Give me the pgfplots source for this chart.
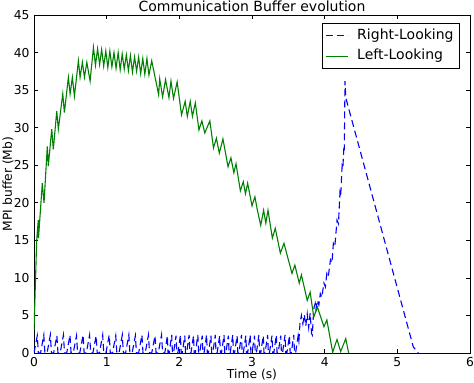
\documentclass[border=0pt]{standalone}
\usepackage{fontspec}
\setmainfont{DejaVu Sans}
\usepackage{pgfplots}
\pgfplotsset{compat=1.18}
\definecolor{mblue}{rgb}{0,0,1}
\definecolor{mgreen}{rgb}{0,0.5,0}
\begin{document}
\begin{tikzpicture}
\begin{axis}[
  name=ax,
  scale only axis,
  width=436pt, height=338pt,
  xmin=0, xmax=6, ymin=0, ymax=45,
  xtick={0,1,2,3,4,5,6},
  ytick={0,5,10,15,20,25,30,35,40,45},
  tick align=inside,
  major tick length=4pt,
  tick style={black, line width=0.7pt},
  axis line style={line width=0.9pt},
  /pgf/number format/assume math mode=true,
  ticklabel style={font=\fontsize{12.3}{14}\selectfont},
  xticklabel style={yshift=-1pt},
  yticklabel style={xshift=-1pt},
  every axis title shift=0pt,
  title={Communication Buffer evolution},
  title style={at={(axis description cs:0.5,1)}, anchor=base, yshift=3.2pt, inner sep=0pt, font=\fontsize{14}{16}\selectfont},
  xlabel={Time (s)},
  xlabel style={at={(axis description cs:0.5,-0.0754)}, anchor=base, inner sep=0pt, font=\fontsize{12.3}{14}\selectfont},
  ylabel={MPI buffer (Mb)},
  ylabel style={at={(axis description cs:-0.0505,0.5)}, anchor=base, inner sep=0pt, font=\fontsize{12.3}{14}\selectfont},
  legend cell align=left,
  legend image code/.code={\draw[#1] (0pt,0pt) -- (22pt,0pt);},
  legend style={at={(axis description cs:1,1)}, anchor=north east, xshift=-10pt, yshift=-8pt,
    draw=black, line width=0.8pt, inner xsep=3pt, inner ysep=1.8pt,
    font=\fontsize{14}{16}\selectfont,
    nodes={inner xsep=3pt, inner ysep=3.85pt, text height=10pt, text depth=3pt},
    column sep=6pt},
]
\addplot[mblue, line width=1.1pt, dash pattern=on 7pt off 4pt] coordinates {
(0.000,0) (0.045,2.3) (0.060,0)
(0.090,0) (0.135,2.4) (0.150,0)
(0.180,0) (0.225,2.4) (0.240,0)
(0.270,0) (0.315,2.3) (0.330,0)
(0.360,0) (0.405,2.4) (0.420,0)
(0.450,0) (0.495,2.4) (0.510,0)
(0.540,0) (0.585,2.3) (0.600,0)
(0.630,0) (0.675,2.4) (0.690,0)
(0.720,0) (0.765,2.4) (0.780,0)
(0.810,0) (0.855,2.3) (0.870,0)
(0.900,0) (0.945,2.4) (0.960,0)
(0.990,0) (1.035,2.4) (1.050,0)
(1.080,0) (1.125,2.3) (1.140,0)
(1.170,0) (1.215,2.4) (1.230,0)
(1.260,0) (1.305,2.4) (1.320,0)
(1.350,0) (1.395,2.3) (1.410,0)
(1.440,0) (1.485,2.4) (1.500,0)
(1.530,0) (1.575,2.4) (1.590,0)
(1.620,0) (1.665,2.3) (1.680,0)
(1.710,0) (1.755,2.4) (1.770,0)
(1.800,0) (1.835,2.3) (1.845,0)
(1.860,0) (1.895,2.4) (1.905,0)
(1.920,0) (1.955,2.3) (1.965,0)
(1.980,0) (2.015,2.4) (2.025,0)
(2.040,0) (2.075,2.3) (2.085,0)
(2.100,0) (2.135,2.4) (2.145,0)
(2.160,0) (2.195,2.3) (2.205,0)
(2.220,0) (2.255,2.4) (2.265,0)
(2.280,0) (2.315,2.3) (2.325,0)
(2.340,0) (2.375,2.4) (2.385,0)
(2.400,0) (2.435,2.3) (2.445,0)
(2.460,0) (2.495,2.4) (2.505,0)
(2.520,0) (2.555,2.3) (2.565,0)
(2.580,0) (2.615,2.4) (2.625,0)
(2.640,0) (2.675,2.3) (2.685,0)
(2.700,0) (2.735,2.4) (2.745,0)
(2.760,0) (2.795,2.3) (2.805,0)
(2.820,0) (2.855,2.4) (2.865,0)
(2.880,0) (2.915,2.3) (2.925,0)
(2.940,0) (2.975,2.4) (2.985,0)
(3.000,0) (3.035,2.3) (3.045,0)
(3.060,0) (3.095,2.4) (3.105,0)
(3.120,0) (3.155,2.3) (3.165,0)
(3.180,0) (3.215,2.4) (3.225,0)
(3.240,0) (3.275,2.3) (3.285,0)
(3.300,0) (3.335,2.4) (3.345,0)
(3.360,0) (3.395,2.3) (3.405,0)
(3.420,0) (3.455,2.4) (3.465,0)
(3.480,0) (3.515,2.3) (3.525,0)
(3.540,0) (3.575,2.4) (3.585,0)
(3.600,0) (3.635,2.3) (3.645,1.6)
(3.660,3.9) (3.680,5.0) (3.700,3.9) (3.720,5.1) (3.740,3.6) (3.760,5.2)
(3.780,3.4) (3.800,5.3) (3.820,2.6) (3.830,2.4) (3.850,5.9) (3.870,6.6)
(3.880,5.8) (3.900,7.0) (3.920,6.4) (3.940,7.9) (3.960,7.4) (3.990,9.3)
(4.010,8.8) (4.030,10.6) (4.050,10.2) (4.080,12.4) (4.100,12.0) (4.120,14.6)
(4.140,14.2) (4.170,17.7) (4.190,17.2) (4.210,21.3) (4.220,20.8) (4.240,24.9)
(4.250,24.6) (4.265,27.5) (4.270,27.0) (4.280,36.2) (4.290,34.0)
(5.220,0.8) (5.290,0)
};
\addlegendentry{Right-Looking}
\addplot[mgreen, line width=1.1pt] coordinates {
(0.000,3.0) (0.037,15.0) (0.059,17.7) (0.062,15.3) (0.114,22.6) (0.138,20.0)
(0.183,27.5) (0.197,24.9) (0.244,29.8) (0.266,27.1) (0.313,32.2) (0.335,29.8)
(0.396,34.5) (0.418,32.0) (0.473,36.7) (0.497,34.5) (0.528,36.7) (0.556,34.2)
(0.611,38.9) (0.634,36.7) (0.666,38.7) (0.694,36.7) (0.727,38.7) (0.772,36.2)
(0.818,40.7) (0.846,38.3) (0.875,40.5) (0.903,38.4) (0.931,40.4) (0.959,38.2)
(0.988,40.2) (1.016,38.0) (1.044,40.2) (1.072,38.1) (1.101,40.0) (1.129,37.9)
(1.158,40.0) (1.186,37.7) (1.214,39.8) (1.242,37.8) (1.271,39.7) (1.299,37.6)
(1.327,39.6) (1.355,37.4) (1.384,39.4) (1.412,37.5) (1.440,39.4) (1.468,37.2)
(1.497,39.2) (1.525,37.1) (1.554,39.2) (1.582,37.0) (1.620,38.9)
(1.715,34.4) (1.730,36.5) (1.770,34.1) (1.810,36.4) (1.857,34.0) (1.885,36.2)
(1.920,33.9) (1.970,36.1) (2.030,31.7) (2.080,33.5) (2.110,31.5) (2.150,33.5)
(2.180,31.5) (2.220,33.3) (2.270,29.7) (2.310,30.9) (2.350,29.3) (2.420,30.9)
(2.470,27.3) (2.510,28.6) (2.550,26.6) (2.600,28.5) (2.670,24.8) (2.710,26.0)
(2.750,24.0) (2.780,25.2) (2.840,21.6) (2.880,22.8) (2.910,21.2) (2.940,22.6)
(3.000,19.6) (3.040,20.8) (3.070,19.2) (3.120,17.0) (3.160,19.0) (3.190,17.3)
(3.220,19.0) (3.280,15.3) (3.320,16.6) (3.390,13.3) (3.440,14.6) (3.550,10.6)
(3.590,11.7) (3.650,9.3) (3.680,10.4) (3.760,7.0) (3.800,8.1) (3.850,4.8)
(3.900,6.1) (3.990,3.5) (4.030,4.4) (4.110,0.1) (4.170,1.8) (4.220,0.2)
(4.290,1.9) (4.330,0)
};
\addlegendentry{Left-Looking}
\end{axis}
\pgfresetboundingbox
\path ([xshift=-34pt,yshift=-29.3pt]ax.south west) rectangle ([xshift=4pt,yshift=15pt]ax.north east);
\end{tikzpicture}
\end{document}
